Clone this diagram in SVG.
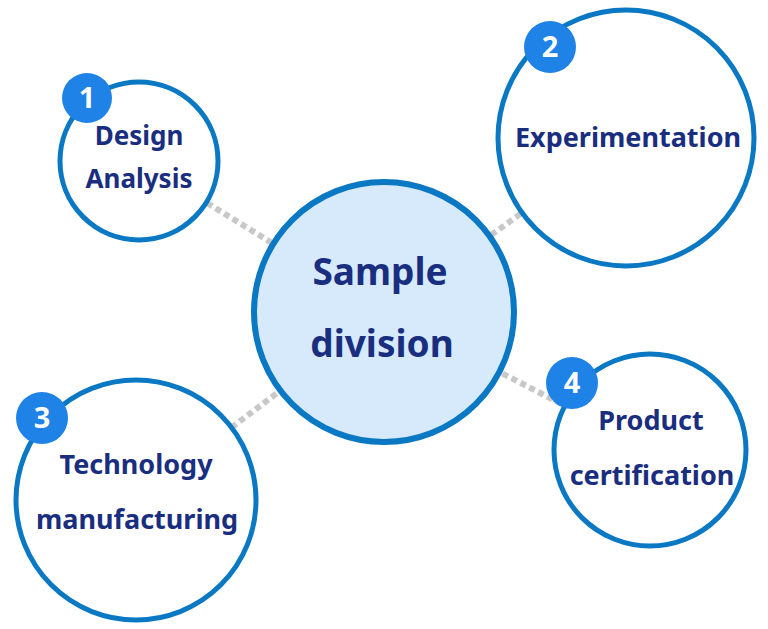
<svg xmlns="http://www.w3.org/2000/svg" width="768" height="629" viewBox="0 0 768 629">
  <style>
    .conn { stroke: #c8c8c8; stroke-width: 6; stroke-dasharray: 6 4; fill: none; }
    .ring { fill: #ffffff; stroke: #0a78c2; stroke-width: 5; }
    .hub { fill: #d6eafc; stroke: #0a78c2; stroke-width: 6; }
    .badge { fill: #1e82e6; }
    .num { fill: #ffffff; font-family: "Noto Sans", "Open Sans", sans-serif; font-weight: bold; font-size: 29px; text-anchor: middle; }
    .lbl { fill: #1a2e80; font-family: "Noto Sans", "Open Sans", sans-serif; font-weight: bold; font-size: 26px; text-anchor: middle; }
    .mid { font-size: 27px; }
    .big { font-size: 37px; }
  </style>
  <rect width="768" height="629" fill="#ffffff"/>
  <g id="connectors">
    <line class="conn" x1="139" y1="161" x2="384" y2="312"/>
    <line class="conn" x1="626" y1="138" x2="384" y2="312"/>
    <line class="conn" x1="136" y1="500" x2="384" y2="312"/>
    <line class="conn" x1="650" y1="450" x2="384" y2="312"/>
  </g>
  <g id="hub">
    <circle class="hub" cx="384" cy="312" r="130"/>
    <text class="lbl big" x="380" y="285">Sample</text>
    <text class="lbl big" x="382" y="357">division</text>
  </g>
  <g id="node1">
    <circle class="ring" cx="139" cy="161" r="79"/>
    <circle class="badge" cx="87" cy="98" r="25"/>
    <text class="num" x="87" y="108">1</text>
    <text class="lbl" x="139" y="145">Design</text>
    <text class="lbl" x="139" y="188">Analysis</text>
  </g>
  <g id="node2">
    <circle class="ring" cx="626" cy="138" r="128"/>
    <circle class="badge" cx="550" cy="47" r="26"/>
    <text class="num" x="550" y="57">2</text>
    <text class="lbl mid" x="628" y="147">Experimentation</text>
  </g>
  <g id="node3">
    <circle class="ring" cx="136" cy="500" r="120"/>
    <circle class="badge" cx="42" cy="418" r="26"/>
    <text class="num" x="42" y="428">3</text>
    <text class="lbl mid" x="136" y="474">Technology</text>
    <text class="lbl mid" x="137" y="529">manufacturing</text>
  </g>
  <g id="node4">
    <circle class="ring" cx="650" cy="450" r="96"/>
    <circle class="badge" cx="572" cy="383" r="26"/>
    <text class="num" x="572" y="393">4</text>
    <text class="lbl mid" x="651" y="430">Product</text>
    <text class="lbl mid" x="652" y="485">certification</text>
  </g>
</svg>
